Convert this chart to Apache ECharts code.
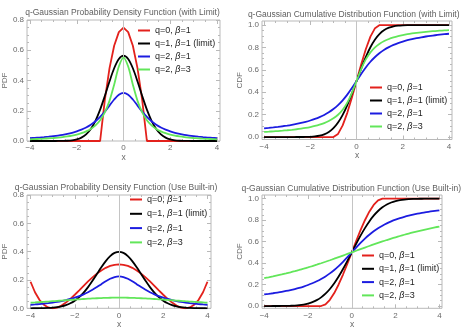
<!DOCTYPE html>
<html>
<head>
<meta charset="utf-8">
<script src="https://cdn.jsdelivr.net/npm/echarts@6/dist/echarts.min.js"></script>
<style>
  html, body { margin: 0; padding: 0; background: #fff; }
  #c { width: 474px; height: 331px; }
</style>
</head>
<body>
<div id="c"></div>
<script>
// Sample points shared by every curve
const xs = [-4,-3.8,-3.6,-3.4,-3.2,-3,-2.8,-2.6,-2.4,-2.2,-2,-1.8,-1.6,-1.4,-1.2,-1,-0.8,-0.6,-0.4,-0.2,0,
            0.2,0.4,0.6,0.8,1,1.2,1.4,1.6,1.8,2,2.2,2.4,2.6,2.8,3,3.2,3.4,3.6,3.8,4];

const seriesNames = ['q=0, β=1', 'q=1, β=1 (limit)', 'q=2, β=1', 'q=2, β=3'];
const seriesColors = ['#e3211c', '#000000', '#1c1ce0', '#62e65a'];

// Tick labels
const xTickValues = [-4, -2, 0, 2, 4];
const xMinorTickValues = [-3.5, -3, -2.5, -1.5, -1, -0.5, 0.5, 1, 1.5, 2.5, 3, 3.5];
const pdfTickValues = [0, 0.2, 0.4, 0.6, 0.8];
const pdfMinorTickValues = [0.05, 0.1, 0.15, 0.25, 0.3, 0.35, 0.45, 0.5, 0.55, 0.65, 0.7, 0.75];
const cdfTickValues = [0, 0.2, 0.4, 0.6, 0.8, 1.0];
const cdfMinorTickValues = [0.05, 0.1, 0.15, 0.25, 0.3, 0.35, 0.45, 0.5, 0.55, 0.65, 0.7, 0.75, 0.85, 0.9, 0.95];

// PDF (with limit)
const pdfLimQ0 = [0,0,0,0,0,0,0,0,0,0,0,0,0,0,0,0,0.27,0.48,0.63,0.72,0.75,0.72,0.63,0.48,0.27,0,0,0,0,0,0,0,0,0,0,0,0,0,0,0,0];
const pdfLimQ1 = [0,0,0,0,0,0.0001,0.0002,0.0007,0.0018,0.0045,0.0103,0.0221,0.0436,0.0795,0.1337,0.2076,0.2975,0.3936,0.4808,0.5421,0.5642,
                  0.5421,0.4808,0.3936,0.2975,0.2076,0.1337,0.0795,0.0436,0.0221,0.0103,0.0045,0.0018,0.0007,0.0002,0.0001,0,0,0,0,0];
const pdfLimQ2b1 = [0.0187,0.0206,0.0228,0.0253,0.0283,0.0318,0.0360,0.0410,0.0471,0.0545,0.0637,0.0751,0.0894,0.1075,0.1305,0.1592,0.1941,0.2341,0.2744,0.3061,0.3183,
                    0.3061,0.2744,0.2341,0.1941,0.1592,0.1305,0.1075,0.0894,0.0751,0.0637,0.0545,0.0471,0.0410,0.0360,0.0318,0.0283,0.0253,0.0228,0.0206,0.0187];
const pdfLimQ2b3 = [0.0113,0.0124,0.0138,0.0155,0.0174,0.0197,0.0225,0.0259,0.0302,0.0355,0.0424,0.0514,0.0635,0.0801,0.1036,0.1378,0.1888,0.2651,0.3725,0.4923,0.5513,
                    0.4923,0.3725,0.2651,0.1888,0.1378,0.1036,0.0801,0.0635,0.0514,0.0424,0.0355,0.0302,0.0259,0.0225,0.0197,0.0174,0.0155,0.0138,0.0124,0.0113];

// CDF (with limit)
const cdfLimQ0 = [0,0,0,0,0,0,0,0,0,0,0,0,0,0,0,0,0.028,0.104,0.216,0.352,0.5,0.648,0.784,0.896,0.972,1,1,1,1,1,1,1,1,1,1,1,1,1,1,1,1];
const cdfLimQ1 = [0,0,0,0,0,0,0,0.0001,0.0003,0.0009,0.0023,0.0054,0.0118,0.0238,0.0448,0.0786,0.1289,0.1981,0.2858,0.3886,0.5,
                  0.6114,0.7142,0.8019,0.8711,0.9214,0.9552,0.9762,0.9882,0.9946,0.9977,0.9991,0.9997,0.9999,1,1,1,1,1,1,1];
const cdfLimQ2b1 = [0.0780,0.0819,0.0863,0.0911,0.0964,0.1024,0.1092,0.1169,0.1257,0.1358,0.1476,0.1614,0.1778,0.1974,0.2211,0.2500,0.2852,0.3280,0.3789,0.4372,0.5,
                    0.5628,0.6211,0.6720,0.7148,0.7500,0.7789,0.8026,0.8222,0.8386,0.8524,0.8642,0.8743,0.8831,0.8908,0.8976,0.9036,0.9089,0.9137,0.9181,0.9220];
const cdfLimQ2b3 = [0.0456,0.0480,0.0506,0.0535,0.0568,0.0605,0.0647,0.0696,0.0752,0.0817,0.0895,0.0988,0.1103,0.1245,0.1428,0.1667,0.1990,0.2439,0.3071,0.3938,0.5,
                    0.6062,0.6929,0.7561,0.8010,0.8333,0.8572,0.8755,0.8897,0.9012,0.9105,0.9183,0.9248,0.9304,0.9353,0.9395,0.9432,0.9465,0.9494,0.9520,0.9544];

// PDF (built-in)
const pdfBiQ0 = [0.1875,0.1133,0.0600,0.0251,0.0059,0,0.0051,0.0192,0.0402,0.0662,0.0957,0.1270,0.1587,0.1897,0.2187,0.2449,0.2675,0.2857,0.2991,0.3073,0.3100,
                 0.3073,0.2991,0.2857,0.2675,0.2449,0.2187,0.1897,0.1587,0.1270,0.0957,0.0662,0.0402,0.0192,0.0051,0,0.0059,0.0251,0.0600,0.1133,0.1875];
const pdfBiQ1 = [0.0001,0.0003,0.0006,0.0012,0.0024,0.0044,0.0079,0.0136,0.0224,0.0355,0.0540,0.0790,0.1109,0.1497,0.1942,0.2420,0.2897,0.3332,0.3683,0.3910,0.3989,
                 0.3910,0.3683,0.3332,0.2897,0.2420,0.1942,0.1497,0.1109,0.0790,0.0540,0.0355,0.0224,0.0136,0.0079,0.0044,0.0024,0.0012,0.0006,0.0003,0.0001];
const pdfBiQ2b1 = [0.0250,0.0274,0.0301,0.0332,0.0368,0.0409,0.0457,0.0514,0.0580,0.0658,0.0750,0.0859,0.0987,0.1137,0.1309,0.1501,0.1705,0.1907,0.2084,0.2207,0.2251,
                   0.2207,0.2084,0.1907,0.1705,0.1501,0.1309,0.1137,0.0987,0.0859,0.0750,0.0658,0.0580,0.0514,0.0457,0.0409,0.0368,0.0332,0.0301,0.0274,0.0250];
const pdfBiQ2b3 = [0.0397,0.0416,0.0436,0.0457,0.0478,0.0500,0.0523,0.0545,0.0568,0.0591,0.0614,0.0636,0.0657,0.0677,0.0695,0.0711,0.0725,0.0736,0.0744,0.0749,0.0750,
                   0.0749,0.0744,0.0736,0.0725,0.0711,0.0695,0.0677,0.0657,0.0636,0.0614,0.0591,0.0568,0.0545,0.0523,0.0500,0.0478,0.0457,0.0436,0.0416,0.0397];

// CDF (built-in)
const cdfBiQ0 = [0,0,0,0,0,0,0,0,0,0,0,0,0,0.0001,0.0163,0.0581,0.1210,0.2009,0.2935,0.3946,0.5,
                 0.6054,0.7065,0.7991,0.8790,0.9419,0.9837,0.9999,1,1,1,1,1,1,1,1,1,1,1,1,1];
const cdfBiQ1 = [0.0000,0.0001,0.0002,0.0003,0.0007,0.0013,0.0026,0.0047,0.0082,0.0139,0.0228,0.0359,0.0548,0.0808,0.1151,0.1587,0.2119,0.2743,0.3446,0.4207,0.5,
                 0.5793,0.6554,0.7257,0.7881,0.8413,0.8849,0.9192,0.9452,0.9641,0.9772,0.9861,0.9918,0.9953,0.9974,0.9987,0.9993,0.9997,0.9998,0.9999,1.0000];
const cdfBiQ2b1 = [0.1082,0.1134,0.1191,0.1255,0.1324,0.1402,0.1489,0.1586,0.1695,0.1818,0.1959,0.2120,0.2304,0.2516,0.2760,0.3041,0.3361,0.3723,0.4123,0.4553,0.5,
                   0.5447,0.5877,0.6277,0.6639,0.6959,0.7240,0.7484,0.7696,0.7880,0.8041,0.8182,0.8305,0.8414,0.8511,0.8598,0.8676,0.8745,0.8809,0.8866,0.8918];
const cdfBiQ2b3 = [0.2594,0.2675,0.2760,0.2850,0.2943,0.3041,0.3143,0.3250,0.3361,0.3478,0.3598,0.3723,0.3852,0.3986,0.4123,0.4263,0.4407,0.4553,0.4701,0.4850,0.5,
                   0.5150,0.5299,0.5447,0.5593,0.5737,0.5877,0.6014,0.6148,0.6277,0.6402,0.6522,0.6639,0.6750,0.6857,0.6959,0.7057,0.7150,0.7240,0.7325,0.7406];

const FONT = '"Liberation Sans", Arial, sans-serif';
const FRAME = '#b9b9b9';
const TICK_TEXT = '#6a6a6a';

const panels = [
  { title: 'q-Gaussian Probability Density Function (with Limit)', tx: 122.5, ty: 13,
    box: [25, 20, 195, 121], xr: [-4.127, 4.127], yr: [0, 0.8], yTicks: pdfTickValues, yMinor: pdfMinorTickValues, yName: 'PDF',
    legend: [138, 25, 2], curves: [pdfLimQ0, pdfLimQ1, pdfLimQ2b1, pdfLimQ2b3] },
  { title: 'q-Gaussian Cumulative Distribution Function (with Limit)', tx: 353.7, ty: 15,
    box: [262, 21, 190, 118.5], xr: [-4.09, 4.13], yr: [-0.022, 1.036], yTicks: cdfTickValues, yMinor: cdfMinorTickValues, yName: 'CDF',
    legend: [370, 82, 2], curves: [cdfLimQ0, cdfLimQ1, cdfLimQ2b1, cdfLimQ2b3] },
  { title: 'q-Gaussian Probability Density Function (Use Built-in)', tx: 116, ty: 187.7,
    box: [26, 195, 185, 113.3], xr: [-4.16, 4.16], yr: [0, 0.8], yTicks: pdfTickValues, yMinor: pdfMinorTickValues, yName: 'PDF',
    legend: [130, 194, 3.3], curves: [pdfBiQ0, pdfBiQ1, pdfBiQ2b1, pdfBiQ2b3] },
  { title: 'q-Gaussian Cumulative Distribution Function (Use Built-in)', tx: 351.3, ty: 189,
    box: [262, 195, 180, 113.3], xr: [-4.1, 4.12], yr: [-0.021, 1.034], yTicks: cdfTickValues, yMinor: cdfMinorTickValues, yName: 'CDF',
    legend: [362, 250, 2.3], curves: [cdfBiQ0, cdfBiQ1, cdfBiQ2b1, cdfBiQ2b3] }
];

const fmtX = v => (v < 0 ? '\u2212' + (-v) : String(v));
const fmtY = v => v.toFixed(1);

const grid = [], xAxis = [], yAxis = [], series = [], legend = [], graphic = [];

// tick-only axis used for the frame's mirrored and minor ticks
function tickAxis(gridIndex, position, range, values, len) {
  return { type: 'value', gridIndex, position, min: range[0], max: range[1],
    axisLine: { show: false, onZero: false }, splitLine: { show: false }, axisLabel: { show: false },
    axisTick: { show: true, inside: true, length: len, customValues: values, lineStyle: { color: FRAME, width: 1 } } };
}

panels.forEach((p, i) => {
  grid.push({ left: p.box[0], top: p.box[1], width: p.box[2], height: p.box[3],
              show: true, borderColor: FRAME, borderWidth: 1, backgroundColor: 'transparent' });

  const tickStyle = { show: true, inside: true, length: 4, lineStyle: { color: FRAME, width: 1 } };
  const xi = xAxis.length, yi = yAxis.length;

  xAxis.push({ type: 'value', gridIndex: i, position: 'bottom', min: p.xr[0], max: p.xr[1],
    axisLine: { show: false, onZero: false }, splitLine: { show: false },
    axisTick: Object.assign({ customValues: xTickValues }, tickStyle),
    axisLabel: { customValues: xTickValues, formatter: fmtX, color: TICK_TEXT, fontSize: 8, fontFamily: FONT, margin: 3 },
    name: 'x', nameLocation: 'middle', nameGap: 9,
    nameTextStyle: { color: TICK_TEXT, fontSize: 8.5, fontFamily: FONT } });
  xAxis.push(tickAxis(i, 'top', p.xr, xTickValues, 4));
  xAxis.push(tickAxis(i, 'bottom', p.xr, xMinorTickValues, 2));
  xAxis.push(tickAxis(i, 'top', p.xr, xMinorTickValues, 2));

  yAxis.push({ type: 'value', gridIndex: i, position: 'left', min: p.yr[0], max: p.yr[1],
    axisLine: { show: false, onZero: false }, splitLine: { show: false },
    axisTick: Object.assign({ customValues: p.yTicks }, tickStyle),
    axisLabel: { customValues: p.yTicks, formatter: fmtY, color: TICK_TEXT, fontSize: 8, fontFamily: FONT, margin: 3 },
    name: p.yName, nameLocation: 'middle', nameGap: 14, nameRotate: 90,
    nameTextStyle: { color: TICK_TEXT, fontSize: 8, fontFamily: FONT } });
  yAxis.push(tickAxis(i, 'right', p.yr, p.yTicks, 4));
  yAxis.push(tickAxis(i, 'left', p.yr, p.yMinor, 2));
  yAxis.push(tickAxis(i, 'right', p.yr, p.yMinor, 2));

  // vertical line through the origin, behind the curves
  series.push({ type: 'line', name: 'origin', xAxisIndex: xi, yAxisIndex: yi, data: [], z: 1,
    silent: true, animation: false,
    markLine: { silent: true, symbol: 'none', animation: false, label: { show: false },
      lineStyle: { color: '#c4c4c4', width: 1, type: 'solid' }, data: [{ xAxis: 0 }] } });

  p.curves.forEach((vals, j) => {
    series.push({ type: 'line', name: seriesNames[j], xAxisIndex: xi, yAxisIndex: yi,
      data: xs.map((x, k) => [x, vals[k]]),
      showSymbol: false, symbol: 'none', smooth: j === 0 ? false : 0.3, z: 2 + j,
      lineStyle: { color: seriesColors[j], width: 1.8 }, itemStyle: { color: seriesColors[j] },
      animation: false });
  });

  legend.push({ data: seriesNames, orient: 'vertical', left: p.legend[0], top: p.legend[1],
    itemGap: p.legend[2], itemWidth: 12, itemHeight: 2, icon: 'rect', padding: 0, selectedMode: false,
    formatter: n => n.replace('β', '{b|β}'),
    textStyle: { fontSize: 9, color: '#1e1e1e', fontFamily: FONT, lineHeight: 11,
      rich: { b: { fontStyle: 'italic', fontSize: 9, color: '#1e1e1e', fontFamily: FONT, lineHeight: 11 } } } });

  graphic.push({ type: 'text', x: p.tx, y: p.ty, silent: true,
    style: { text: p.title, fill: '#5e5e5e', font: '8.5px ' + FONT, textAlign: 'center', textVerticalAlign: 'middle' } });
});

const chart = echarts.init(document.getElementById('c'), null, { renderer: 'canvas' });
chart.setOption({ animation: false, backgroundColor: '#fff', grid, xAxis, yAxis, series, legend, graphic });
</script>
</body>
</html>
